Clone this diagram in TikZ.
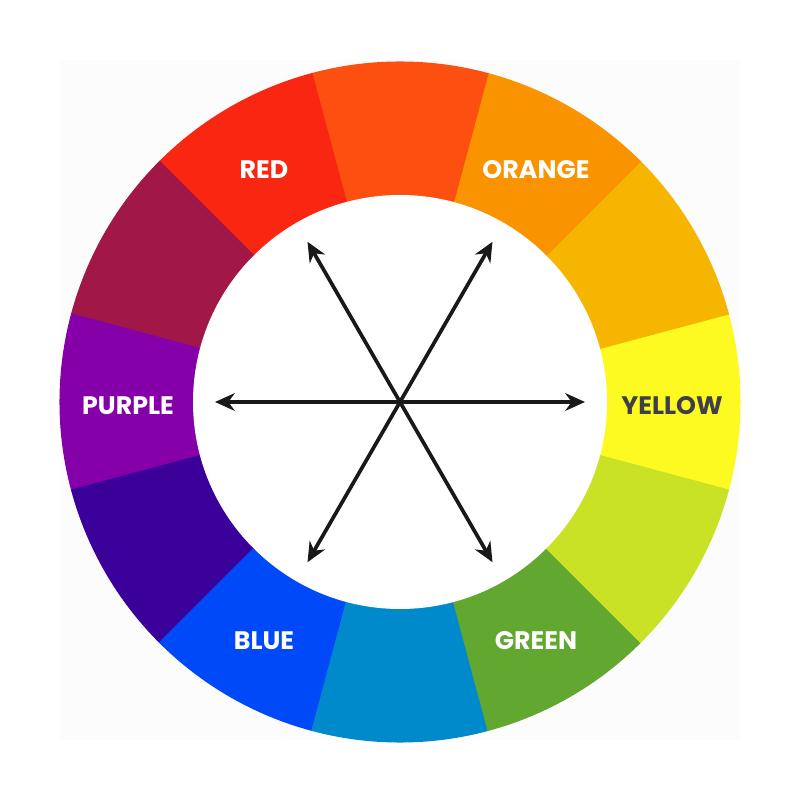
\documentclass[tikz,border=0pt]{standalone}
\usepackage{fontspec}
\setmainfont{Poppins}
\usetikzlibrary{arrows.meta,positioning}
\definecolor{paper}{HTML}{FCFCFC}
\definecolor{cY}{HTML}{FDFA22}
\definecolor{cYO}{HTML}{F6B500}
\definecolor{cO}{HTML}{F99300}
\definecolor{cRO}{HTML}{FD5010}
\definecolor{cR}{HTML}{F92712}
\definecolor{cRV}{HTML}{A11848}
\definecolor{cV}{HTML}{8600AA}
\definecolor{cBV}{HTML}{3C009A}
\definecolor{cB}{HTML}{0049F8}
\definecolor{cBG}{HTML}{008ACC}
\definecolor{cG}{HTML}{62A830}
\definecolor{cYG}{HTML}{C9E226}
\definecolor{ink}{HTML}{3F3F4A}
\tikzset{
  lbl/.style={font=\bfseries\fontsize{7.2pt}{8pt}\selectfont, text=white, yshift=-0.035cm},
  ray/.style={<->, line width=1.05pt, draw=black!90}
}
\begin{document}
\begin{tikzpicture}[>={Stealth[length=5.6pt,width=5pt,inset=1.8pt]}]
\useasboundingbox (-4,-3.98) rectangle (4,4.02);
\fill[white] (-4,-3.98) rectangle (4,4.02);
\fill[paper] (-3.4,-3.38) rectangle (3.4,3.42);
% Wheel
\foreach \a/\c in {0/cY,30/cYO,60/cO,90/cRO,120/cR,150/cRV,180/cV,210/cBV,240/cB,270/cBG,300/cG,330/cYG}
  \filldraw[fill=\c, draw=\c, line width=0.3pt] (\a-15:3.4) arc (\a-15:\a+15:3.4) -- (\a+15:2.07) arc (\a+15:\a-15:2.07) -- cycle;
\fill[white] (0,0) circle (2.07);
% Labels
\node[lbl] (red) at (120:2.72) {RED};
\node[lbl] (orange) at (60:2.72) {ORANGE};
\node[lbl, text=ink] (yellow) at (0:2.72) {YELLOW};
\node[lbl] (green) at (-60:2.72) {GREEN};
\node[lbl] (blue) at (-120:2.72) {BLUE};
\node[lbl] (purple) at (180:2.72) {PURPLE};
% Arrows
\foreach \a in {0,60,...,300}
  \coordinate (t\a) at (\a:1.85);
\draw[ray] (t180) -- (t0);
\draw[ray] (t240) -- (t60);
\draw[ray] (t300) -- (t120);
\end{tikzpicture}
\end{document}
